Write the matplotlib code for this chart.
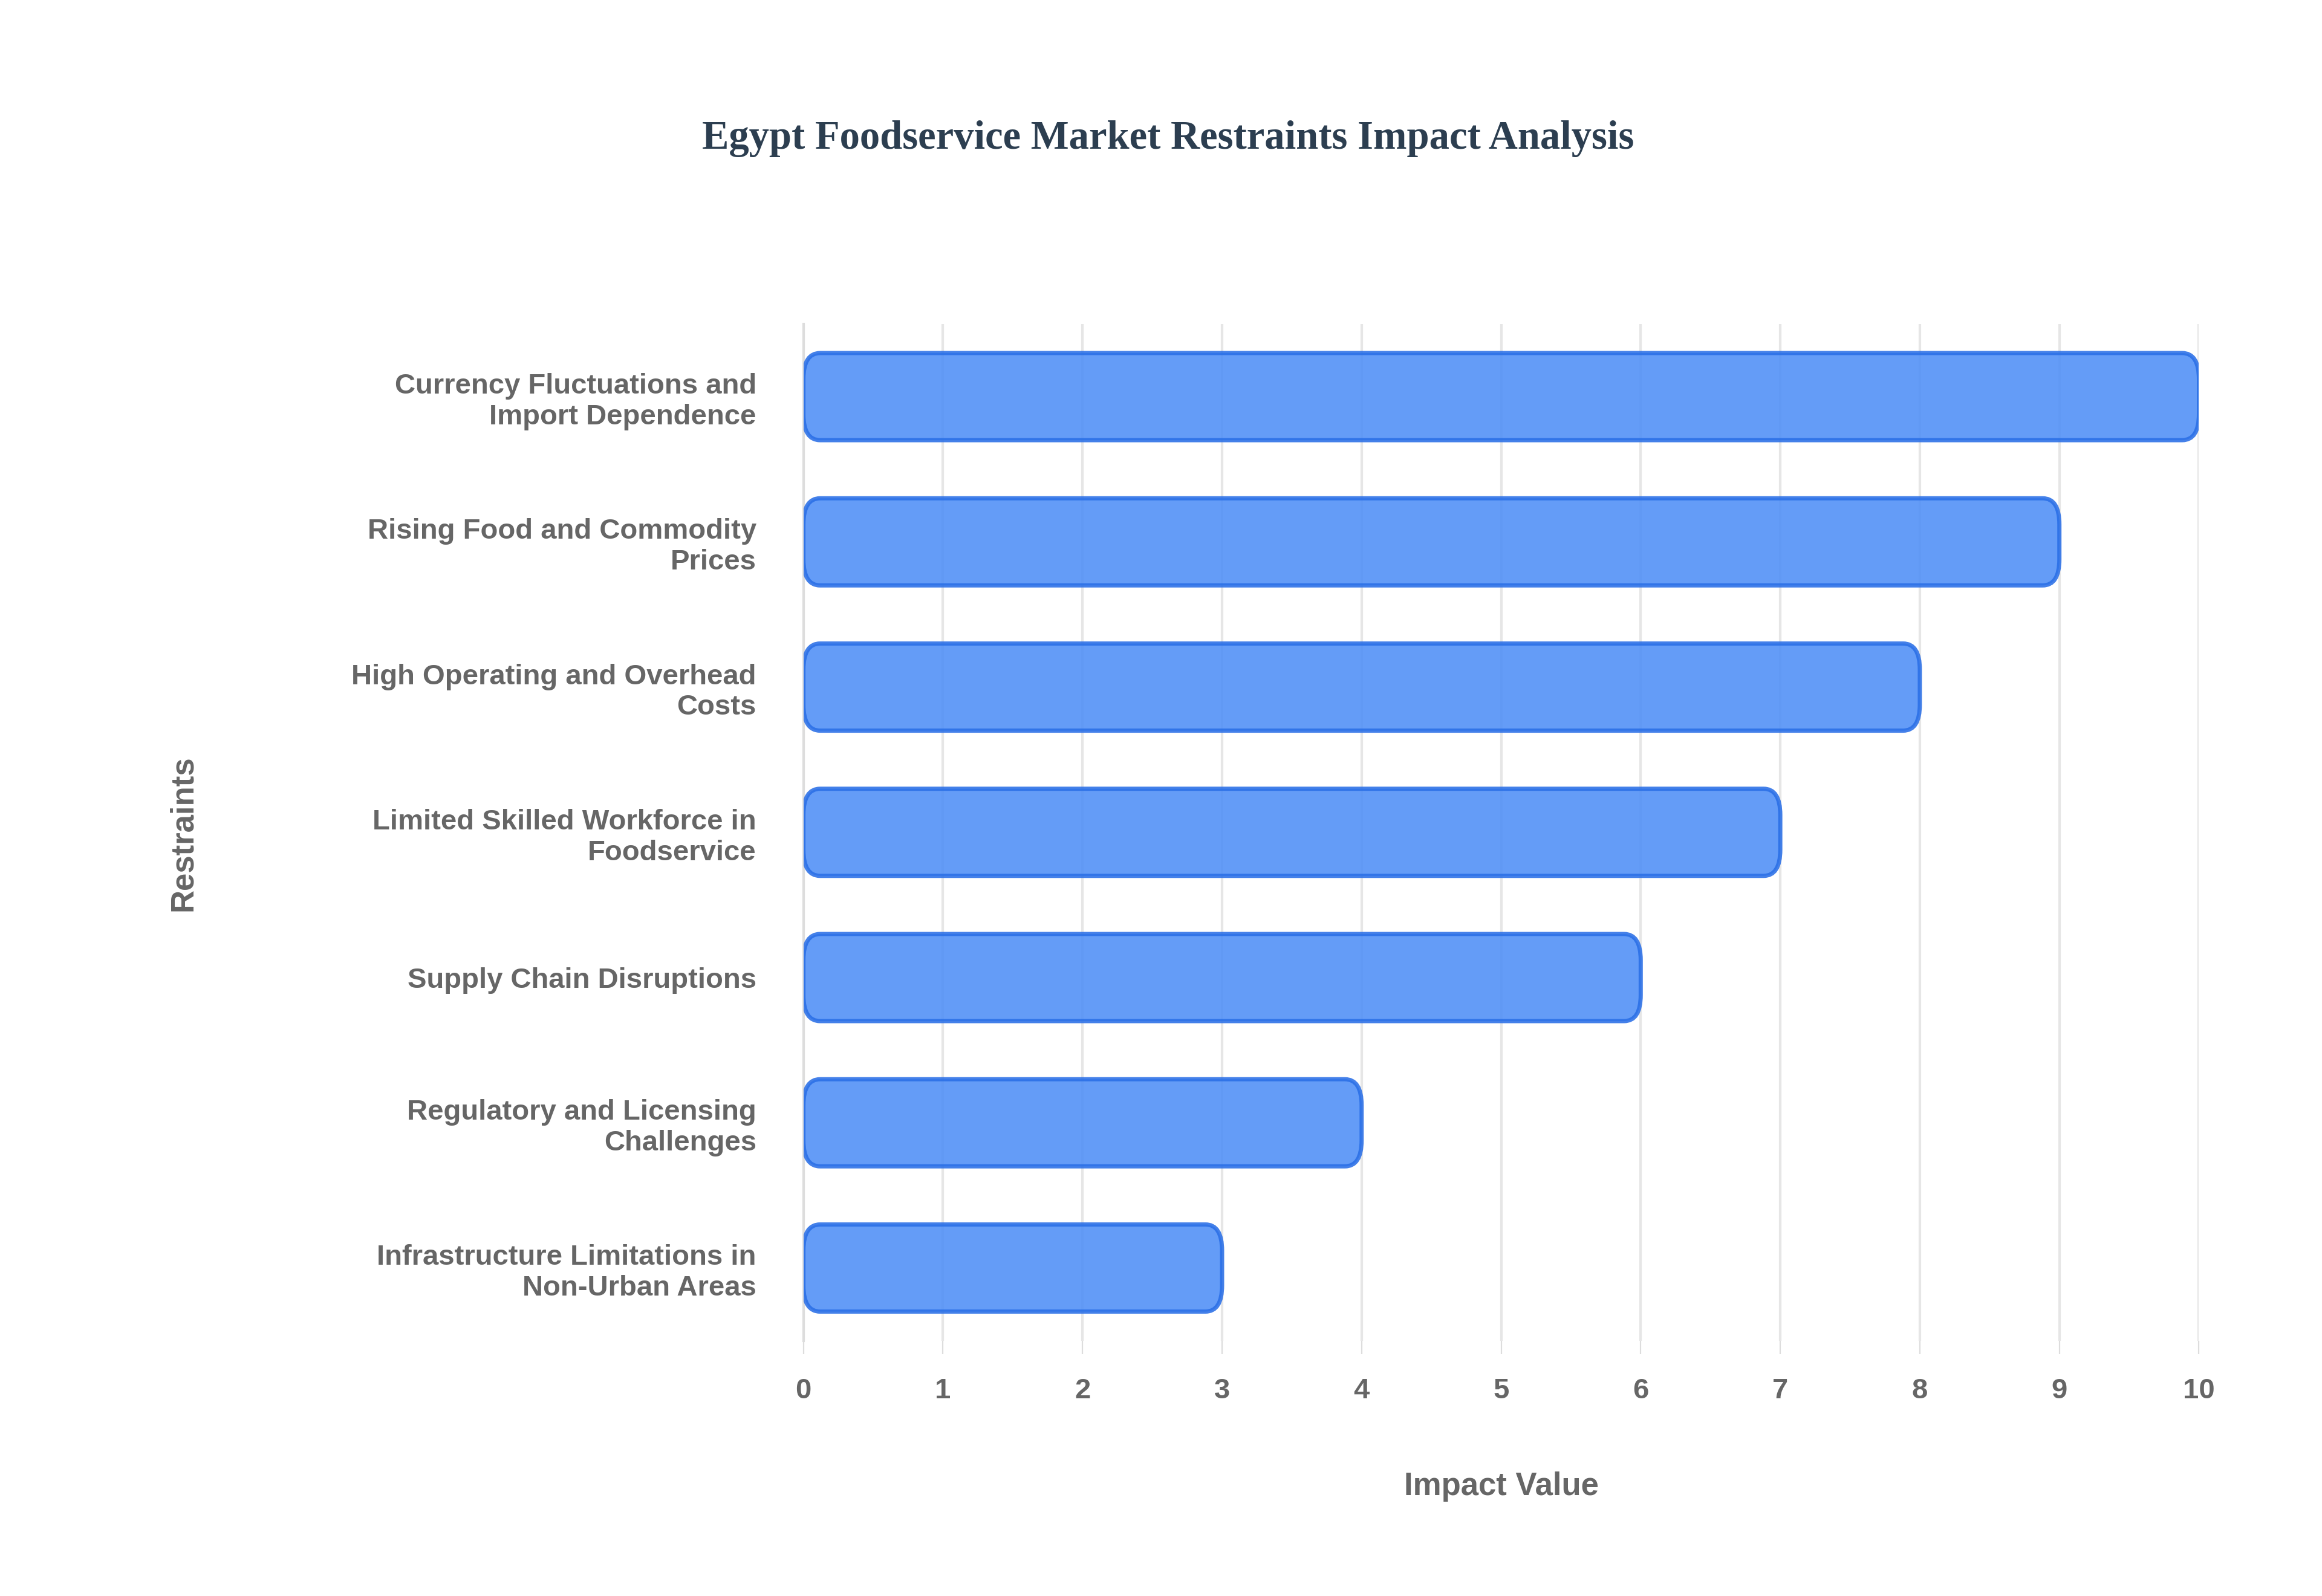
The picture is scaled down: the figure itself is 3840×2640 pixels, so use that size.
import matplotlib
matplotlib.use("Agg")
import matplotlib.pyplot as plt
from matplotlib.patches import FancyBboxPatch

categories = ["Currency Fluctuations and\nImport Dependence",
              "Rising Food and Commodity\nPrices",
              "High Operating and Overhead\nCosts",
              "Limited Skilled Workforce in\nFoodservice",
              "Supply Chain Disruptions",
              "Regulatory and Licensing\nChallenges",
              "Infrastructure Limitations in\nNon-Urban Areas"]
values = [10, 9, 8, 7, 6, 4, 3]
xticks = list(range(0, 11))

fig = plt.figure(figsize=(19.2, 13.2), dpi=200)
ax = fig.add_axes([0.346, 0.16, 0.601, 0.637])
ys = list(range(len(categories)))[::-1]
h = 0.6
for y, v in zip(ys, values):
    ax.add_patch(FancyBboxPatch((0, y - h/2), v, h,
                 boxstyle="round,pad=0,rounding_size=0.12",
                 mutation_aspect=1.5,
                 facecolor="#4f8ff7", alpha=0.88, edgecolor="#2a6fe6", linewidth=2.5, zorder=3))
ax.set_xlim(0, 10)
ax.set_ylim(-0.5, len(categories) - 0.5)
ax.set_yticks(ys)
ax.set_yticklabels(categories, fontsize=17, fontweight="bold", color="#666666", family="Liberation Sans")
ax.set_xticks(xticks)
ax.set_xticklabels([str(t) for t in xticks], fontsize=17, fontweight="bold", color="#666666", family="Liberation Sans")
ax.grid(axis="x", color="#e6e6e6", linewidth=1.5, zorder=0)
for s in ["top", "right", "bottom"]:
    ax.spines[s].set_visible(False)
ax.spines["left"].set_color("#dddddd")
ax.spines["left"].set_linewidth(1.5)
ax.tick_params(axis="y", length=0, pad=28)
ax.tick_params(axis="x", length=8, color="#dddddd", pad=14)
ax.set_xlabel("Impact Value", fontsize=19, fontweight="bold", color="#666666", family="Liberation Sans", labelpad=40)
fig.text(0.079, 0.478, "Restraints", rotation=90, fontsize=19, fontweight="bold", color="#666666",
         family="Liberation Sans", ha="center", va="center")
fig.text(0.503, 0.913, "Egypt Foodservice Market Restraints Impact Analysis", fontsize=24, fontweight="bold",
         color="#2c3e50", family="Liberation Serif", ha="center", va="center")
fig.savefig("out.png", dpi=200, facecolor="white")
